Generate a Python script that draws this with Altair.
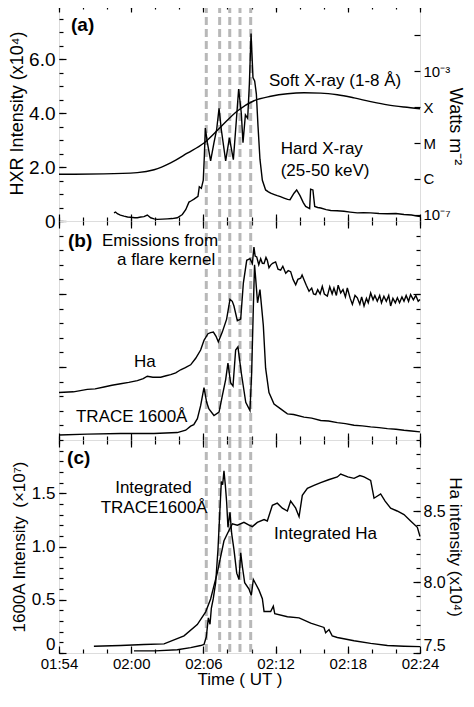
import altair as alt
import pandas as pd

FONT = "Liberation Sans, Arial, sans-serif"

# ---------------- data (time in minutes after 01:54 UT) ----------------
X_DOMAIN = [0, 30]
time_major = [0, 6, 12, 18, 24, 30]
time_labels = ["01:54", "02:00", "02:06", "02:12", "02:18", "02:24"]
time_minor = [0, 2, 4, 6, 8, 10, 12, 14, 16, 18, 20, 22, 24, 26, 28, 30]
dash_times = [12.24, 13.35, 14.19, 15.04, 15.93]

# (a) hard X-ray 25-50 keV, x10^4
hxr = [(4.57, 0.30), (4.7, 0.33), (4.85, 0.27), (5.1, 0.22), (5.4, 0.18), (5.7, 0.15),
       (5.96, 0.14), (6.3, 0.12), (6.51, 0.12), (6.8, 0.15), (7.06, 0.16), (7.34, 0.22),
       (7.62, 0.12), (7.9, 0.08), (8.17, 0.06), (8.6, 0.07), (9.0, 0.08), (9.4, 0.09),
       (9.83, 0.12), (10.25, 0.24), (10.53, 0.42), (10.8, 0.70), (11.0, 0.75), (11.22, 0.81),
       (11.55, 0.91), (11.66, 1.27), (11.83, 1.21), (11.99, 1.51), (12.08, 2.42), (12.16, 3.44),
       (12.33, 2.90), (12.6, 2.23), (12.88, 2.90), (13.1, 3.38), (13.3, 4.17), (13.49, 3.38),
       (13.85, 2.23), (14.16, 3.08), (14.49, 2.27), (14.74, 3.74), (14.93, 4.89), (15.15, 3.99),
       (15.29, 2.90), (15.49, 3.93), (15.68, 3.80), (15.82, 5.07), (15.96, 6.94), (16.12, 5.31),
       (16.26, 5.19), (16.4, 4.71), (16.54, 3.50), (16.7, 2.29), (16.9, 1.51), (17.17, 1.15),
       (17.4, 1.08), (17.59, 1.03), (17.9, 0.98), (18.14, 0.94), (18.4, 0.90), (18.7, 0.85),
       (19.0, 0.80), (19.2, 0.79), (19.53, 1.03), (19.75, 1.15), (20.03, 0.94), (20.3, 0.68),
       (20.5, 0.54), (20.83, 0.46), (20.91, 1.18), (21.1, 1.15), (21.25, 0.54), (21.5, 0.50),
       (21.75, 0.48), (22.2, 0.42), (22.58, 0.39), (23.1, 0.38), (23.68, 0.36), (24.2, 0.33),
       (24.79, 0.30), (25.3, 0.31), (25.9, 0.30), (26.6, 0.28), (27.29, 0.27), (28.0, 0.28),
       (28.67, 0.24), (29.3, 0.22), (30.0, 0.16)]

# (a) GOES soft X-ray 1-8 A, W m^-2
sxr = [(0, 1.35e-6), (3.74, 1.38e-6), (6.51, 1.5e-6), (7.9, 1.8e-6), (9.28, 2.8e-6),
       (10.66, 5.2e-6), (12.05, 1.0e-5), (13.44, 2.8e-5), (14.82, 7.8e-5), (16.2, 1.5e-4),
       (17.6, 2.0e-4), (18.98, 2.35e-4), (20.36, 2.5e-4), (21.75, 2.45e-4), (23.13, 2.2e-4),
       (24.52, 1.8e-4), (25.9, 1.42e-4), (27.3, 1.15e-4), (28.67, 1.0e-4), (30, 9.0e-5)]

# (b) flare kernel, arbitrary units
ha_kernel = [(0, 3.25), (1.2, 3.3), (2.35, 3.47), (3.0, 3.5), (3.74, 3.63), (4.4, 3.75),
             (5.12, 3.85), (5.8, 3.95), (6.51, 4.07), (7.0, 4.2), (7.34, 4.37), (7.8, 4.3),
             (8.45, 4.30), (8.9, 4.4), (9.28, 4.48), (9.7, 4.6), (10.11, 4.81), (10.5, 4.95),
             (10.94, 5.15), (11.36, 5.60), (11.77, 6.16), (12.05, 6.83), (12.38, 7.28), (12.6, 7.35),
             (12.83, 7.39), (13.05, 7.1), (13.24, 6.72), (13.57, 7.39), (13.93, 8.28), (14.21, 9.63),
             (14.4, 9.5), (14.54, 9.18), (14.82, 8.17), (15.1, 8.28), (15.32, 10.75), (15.6, 12.31),
             (15.87, 12.42), (16.07, 12.09), (16.2, 13.21), (16.3, 12.6), (16.43, 12.54), (16.6, 12.0),
             (16.76, 12.42), (16.9, 12.1), (17.04, 12.09), (17.2, 12.5), (17.31, 12.31), (17.45, 11.8),
             (17.59, 11.98), (17.75, 12.1), (18.0, 12.2), (18.2, 11.7), (18.42, 11.64), (18.6, 11.9),
             (18.84, 11.42), (19.05, 11.6), (19.25, 11.53), (19.45, 11.0), (19.67, 10.63), (19.85, 11.0),
             (20.08, 11.08), (20.2, 11.3), (20.36, 10.97), (20.55, 10.6), (20.78, 10.19), (21.0, 10.4),
             (21.15, 10.0), (21.33, 9.96), (21.5, 10.3), (21.7, 10.0), (21.88, 10.52), (22.05, 10.0),
             (22.3, 9.85), (22.5, 10.5), (22.7, 10.0), (22.85, 10.41), (23.05, 9.9), (23.2, 10.6),
             (23.41, 10.07), (23.6, 10.3), (23.8, 9.8), (23.96, 10.41), (24.2, 9.7), (24.38, 9.29),
             (24.6, 9.9), (24.79, 9.74), (25.0, 9.3), (25.15, 9.8), (25.35, 9.18), (25.55, 9.7),
             (25.7, 9.4), (25.9, 10.07), (26.1, 9.6), (26.25, 9.9), (26.45, 9.51), (26.65, 9.9),
             (26.8, 9.4), (27.0, 9.85), (27.2, 9.5), (27.4, 9.9), (27.56, 9.18), (27.75, 9.7),
             (27.95, 9.4), (28.12, 9.74), (28.3, 9.4), (28.5, 9.8), (28.67, 9.51), (28.85, 9.9),
             (29.05, 9.5), (29.22, 9.96), (29.45, 9.6), (29.65, 9.9), (29.85, 9.5), (30, 9.63)]

trace_kernel = [(0, 0.34), (2.35, 0.40), (5.12, 0.45), (7.89, 0.45), (9.83, 0.51), (10.53, 0.67),
                (10.94, 0.95), (11.2, 1.05), (11.5, 1.46), (11.77, 2.35), (12.05, 3.59), (12.27, 2.58),
                (12.46, 2.13), (12.88, 1.68), (13.3, 1.91), (13.57, 3.02), (13.85, 4.14), (14.04, 5.27),
                (14.26, 3.92), (14.46, 3.69), (14.68, 6.16), (14.87, 6.38), (15.15, 4.59), (15.52, 2.58),
                (15.87, 2.01), (16.01, 4.59), (16.15, 9.07), (16.25, 12.0), (16.35, 11.0), (16.5, 9.4),
                (16.7, 10.3), (16.85, 9.0), (16.98, 7.84), (17.17, 4.92), (17.45, 3.25), (17.87, 2.46),
                (18.42, 2.13), (18.98, 1.79), (19.5, 1.75), (20.36, 1.57), (21.0, 1.5), (21.75, 1.34),
                (22.4, 1.3), (23.13, 1.19), (23.8, 1.12), (24.52, 1.01), (25.2, 0.97), (25.9, 0.9),
                (26.6, 0.85), (27.29, 0.78), (28.0, 0.74), (28.67, 0.67), (29.3, 0.62), (30, 0.56)]

# (c) integrated TRACE 1600 (x10^7) and integrated Ha (x10^4)
int_trace = [(6.23, 0.02), (8.0, 0.02), (9.83, 0.03), (10.94, 0.05), (11.77, 0.07), (12.05, 0.08),
             (12.24, 0.15), (12.41, 0.33), (12.55, 0.27), (12.66, 0.42), (12.82, 0.51), (13.02, 0.66),
             (13.21, 0.97), (13.38, 1.36), (13.49, 1.61), (13.6, 1.58), (13.71, 1.71), (13.82, 1.58),
             (13.93, 1.42), (14.04, 1.18), (14.21, 1.32), (14.35, 1.12), (14.54, 0.97), (14.77, 0.75),
             (14.96, 0.69), (15.1, 0.94), (15.24, 0.81), (15.43, 0.66), (15.79, 0.60), (15.98, 0.54),
             (16.15, 0.69), (16.34, 0.65), (16.62, 0.59), (16.9, 0.51), (17.04, 0.39), (17.59, 0.39),
             (17.81, 0.44), (17.93, 0.37), (18.98, 0.34), (19.95, 0.33), (20.92, 0.28), (22.02, 0.24),
             (22.16, 0.19), (22.44, 0.22), (22.71, 0.16), (23.13, 0.146), (24.52, 0.115), (25.9, 0.09),
             (27.29, 0.07), (28.67, 0.064), (30, 0.06)]

int_ha = [(2.9, 7.548), (5.12, 7.553), (7.06, 7.56), (8.73, 7.564), (10.39, 7.621), (11.49, 7.70),
          (12.19, 7.79), (12.6, 7.88), (12.88, 7.974), (13.16, 8.066), (13.44, 8.18), (13.71, 8.29),
          (13.99, 8.34), (14.41, 8.41), (14.82, 8.40), (15.37, 8.42), (15.79, 8.40), (16.07, 8.39),
          (16.48, 8.42), (17.04, 8.44), (17.31, 8.43), (17.73, 8.54), (18.14, 8.555), (18.56, 8.52),
          (18.98, 8.50), (19.25, 8.57), (19.67, 8.52), (19.95, 8.46), (20.22, 8.61), (20.64, 8.66),
          (21.19, 8.68), (21.75, 8.70), (22.4, 8.72), (23.13, 8.74), (23.41, 8.76), (24.0, 8.74),
          (24.52, 8.73), (25.0, 8.75), (25.35, 8.74), (25.9, 8.715), (26.18, 8.59), (26.73, 8.62),
          (27.1, 8.57), (27.56, 8.52), (28.1, 8.50), (28.67, 8.475), (29.22, 8.43), (29.78, 8.385),
          (30, 8.32)]

hxr_domain = [0, 8]
goes_domain = [10 ** -7.17, 10 ** -1.16]
goes_ticks = [1e-7, 1e-6, 1e-5, 1e-4, 1e-3, 1e-2]
goes_labels = ["10⁻⁷", "C", "M", "X", "10⁻³", ""]
kernel_domain = [0, 15]
trace_domain = [0, 2]
ha_domain = [7.5, 9.0]

hxr_major = [0, 2, 4, 6]
hxr_minor = [0.5 * i for i in range(17)]
kernel_major = [5, 10]
kernel_minor = list(range(1, 15))
trace_major = [0, 0.5, 1.0, 1.5]
trace_minor = [round(0.1 * i, 2) for i in range(21)]
ha_major = [7.5, 8.0, 8.5]
ha_minor = [round(7.5 + 0.1 * i, 2) for i in range(16)]

# annotations: (t, y, text)
a_bold = [(1.0, 7.26, "(a)")]
a_text = [(17.45, 5.19, "Soft X-ray (1-8 Å)"), (18.42, 2.65, "Hard X-ray"), (18.42, 1.86, "(25-50 keV)")]
b_bold = [(0.75, 13.66, "(b)")]
b_text = [(3.57, 13.66, "Emissions from"), (4.82, 12.3, "a flare kernel"), (6.23, 5.37, "Ha"),
          (1.41, 1.57, "TRACE 1600Å")]
c_bold = [(0.67, 1.83, "(c)")]
c_center = [(7.85, 1.55, "Integrated"), (7.9, 1.36, "TRACE1600Å")]
c_text = [(17.87, 1.12, "Integrated Ha")]

# ---------------- helpers ----------------
time_expr = "[" + ",".join(f"'{s}'" for s in time_labels) + "][round(datum.value/6)]"
goes_expr = ""
for v, lab in zip(goes_ticks[:-1], goes_labels[:-1]):
    goes_expr += f"datum.value < {v * 3.0} ? '{lab}' : "
goes_expr += f"'{goes_labels[-1]}'"
one_dec = "datum.value == 0 ? '0' : format(datum.value, '.1f')"


def xenc(axis=None):
    return alt.X("t:Q", scale=alt.Scale(domain=X_DOMAIN, nice=False, zero=False), axis=axis)


def yenc(field, domain, axis=None, stype="linear"):
    return alt.Y(f"{field}:Q", scale=alt.Scale(domain=domain, nice=False, zero=False, type=stype), axis=axis)


def tick_axis(orient, values, size, **kw):
    opts = dict(orient=orient, values=values, tickSize=size, offset=-size, domain=False, grid=False,
                ticks=True, tickColor="black", tickWidth=1.2, labels=False, title=None,
                labelFont=FONT, titleFont=FONT, labelColor="black", titleColor="black",
                titleFontWeight="normal", labelFlush=False, labelOverlap=False, minExtent=0)
    opts.update(kw)
    return alt.Axis(**opts)


def carrier(ydomain, xaxis, yaxis, stype="linear"):
    df = pd.DataFrame({"t": [X_DOMAIN[0]], "y": [ydomain[0]]})
    return alt.Chart(df).mark_point(opacity=0).encode(x=xenc(xaxis), y=yenc("y", ydomain, yaxis, stype))


def line(pairs, domain, stype="linear", interp="linear"):
    df = pd.DataFrame(pairs, columns=["t", "v"])
    return alt.Chart(df).mark_line(color="black", strokeWidth=1.4, interpolate=interp).encode(
        x=xenc(), y=yenc("v", domain, None, stype))


def dashes():
    df = pd.DataFrame({"t": dash_times})
    return alt.Chart(df).mark_rule(color="#b8b8b8", strokeWidth=3, strokeDash=[8, 4]).encode(x=xenc())


def texts(rows, domain, align="left", bold=False, size=17):
    df = pd.DataFrame(rows, columns=["t", "y", "label"])
    return alt.Chart(df).mark_text(align=align, baseline="middle", font=FONT, fontSize=size,
                                   fontWeight="bold" if bold else "normal", color="black").encode(
        x=xenc(), y=yenc("y", domain), text="label:N")


W = 361

panel_a = alt.layer(
    dashes(),
    line(sxr, goes_domain, "log", "monotone"),
    line(hxr, hxr_domain),
    texts(a_bold, hxr_domain, bold=True, size=19),
    texts(a_text, hxr_domain, size=17),
    carrier(hxr_domain, tick_axis("bottom", time_major, 7),
            tick_axis("left", hxr_major, 7, labels=True, labelExpr=one_dec, labelFontSize=19,
                      labelPadding=4, title="HXR Intensity (x10⁴)", titleFontSize=18, titlePadding=2)),
    carrier(hxr_domain, tick_axis("bottom", time_minor, 4), tick_axis("left", hxr_minor, 4)),
    carrier(goes_domain, tick_axis("top", time_major, 7),
            tick_axis("right", goes_ticks, 6, labels=True, labelExpr=goes_expr, labelFontSize=15,
                      labelPadding=3, title="Watts m⁻²", titleFontSize=18, titleAngle=90,
                      titleBaseline="bottom", titleX=31, titleY=121), "log"),
    carrier(hxr_domain, tick_axis("top", time_minor, 4), None),
).resolve_scale(x="independent", y="independent").properties(width=W, height=216)

panel_b = alt.layer(
    dashes(),
    line(ha_kernel, kernel_domain),
    line(trace_kernel, kernel_domain),
    texts(b_bold, kernel_domain, bold=True, size=19),
    texts(b_text, kernel_domain, size=17),
    carrier(kernel_domain, tick_axis("bottom", time_major, 7), tick_axis("left", kernel_major, 7)),
    carrier(kernel_domain, tick_axis("bottom", time_minor, 4), tick_axis("left", kernel_minor, 4)),
    carrier(kernel_domain, tick_axis("top", time_major, 7), tick_axis("right", kernel_major, 7)),
    carrier(kernel_domain, tick_axis("top", time_minor, 4), tick_axis("right", kernel_minor, 4)),
).resolve_scale(x="independent", y="independent").properties(width=W, height=219)

panel_c = alt.layer(
    dashes(),
    line(int_ha, ha_domain),
    line(int_trace, trace_domain),
    texts(c_bold, trace_domain, bold=True, size=19),
    texts(c_center, trace_domain, align="center", size=17),
    texts(c_text, trace_domain, size=17),
    carrier(trace_domain,
            tick_axis("bottom", time_major, 7, labels=True, labelExpr=time_expr, labelFontSize=15,
                      labelPadding=3, title="Time ( UT )", titleFontSize=17, titlePadding=0),
            tick_axis("left", trace_major, 7, labels=True, labelExpr=one_dec, labelFontSize=17,
                      labelPadding=4, labelFlush=True, title="1600A Intensity\u2002(×10⁷)",
                      titleFontSize=17, titlePadding=3)),
    carrier(trace_domain, tick_axis("bottom", time_minor, 4), tick_axis("left", trace_minor, 4)),
    carrier(ha_domain, tick_axis("top", time_major, 7),
            tick_axis("right", ha_major, 7, labels=True, labelExpr=one_dec, labelFontSize=16,
                      labelPadding=3, labelFlush=True, title="Ha intensity (x10⁴)", titleFontSize=17,
                      titleAngle=90, titleBaseline="bottom", titleX=32)),
    carrier(ha_domain, tick_axis("top", time_minor, 4), tick_axis("right", ha_minor, 4)),
).resolve_scale(x="independent", y="independent").properties(width=W, height=213)

chart = alt.vconcat(panel_a, panel_b, panel_c, spacing=0, bounds="flush").properties(
    padding={"left": 0, "top": -5, "right": 0, "bottom": 0}
).configure_view(stroke="black", strokeWidth=1.5).configure(font=FONT)

chart.save("out.html", embed_options={"renderer": "svg", "actions": False})
